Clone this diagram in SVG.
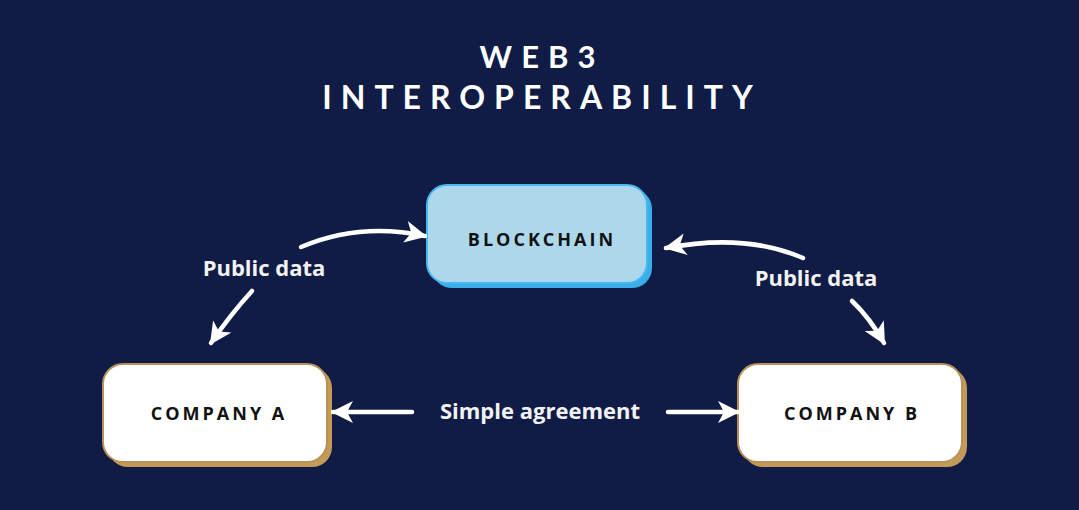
<svg xmlns="http://www.w3.org/2000/svg" width="1079" height="510" viewBox="0 0 1079 510">
<style>
.title{font-family:"Lato","Liberation Sans",sans-serif;font-weight:700;fill:#fff;text-anchor:middle;letter-spacing:9px}
.node{font-family:"Open Sans","Liberation Sans",sans-serif;font-weight:700;font-size:18px;fill:#111;text-anchor:middle;letter-spacing:3px}
.lbl{font-family:"Open Sans","Liberation Sans",sans-serif;font-weight:700;font-size:22px;fill:#f2f2f2;text-anchor:middle}
.conn{fill:none;stroke:#fff;stroke-width:4.5;stroke-linecap:round;marker-end:url(#ah)}
</style>
<defs>
<marker id="ah" markerUnits="userSpaceOnUse" markerWidth="24" markerHeight="24" refX="20" refY="11" orient="auto">
<path d="M0,0 L22,11 L0,22 L6,11 Z" fill="#fff"/>
</marker>
</defs>
<rect width="1079" height="510" fill="#101c46"/>
<text class="title" x="542" y="68" font-size="31">WEB3</text>
<text class="title" x="542" y="109" font-size="32">INTEROPERABILITY</text>

<g id="blockchain">
<rect x="432" y="189" width="220" height="99" rx="20" fill="#3aaee8"/>
<rect x="427" y="185" width="220" height="98" rx="20" fill="#add8ec" stroke="#4ab8f0" stroke-width="2"/>
<text class="node" x="542" y="246">BLOCKCHAIN</text>
</g>
<g id="company-a">
<rect x="108" y="368" width="224" height="99" rx="20" fill="#c39a58"/>
<rect x="103" y="364" width="224" height="98" rx="20" fill="#fff" stroke="#b99257" stroke-width="2"/>
<text class="node" x="219" y="420">COMPANY A</text>
</g>
<g id="company-b">
<rect x="743" y="368" width="224" height="99" rx="20" fill="#c39a58"/>
<rect x="738" y="364" width="224" height="98" rx="20" fill="#fff" stroke="#b99257" stroke-width="2"/>
<text class="node" x="852" y="420">COMPANY B</text>
</g>

<g id="connectors">
<path class="conn" d="M301,247 Q360,222 425,236"/>
<path class="conn" d="M252,291 Q230,315 211,343"/>
<path class="conn" d="M803,258 Q745,233 666,248"/>
<path class="conn" d="M852,301 Q870,318 884,343"/>
<path class="conn" d="M412,412 L333,412"/>
<path class="conn" d="M668,412 L738,412"/>
</g>

<text class="lbl" x="264" y="276">Public data</text>
<text class="lbl" x="816" y="286">Public data</text>
<text class="lbl" x="540" y="419">Simple agreement</text>
</svg>
